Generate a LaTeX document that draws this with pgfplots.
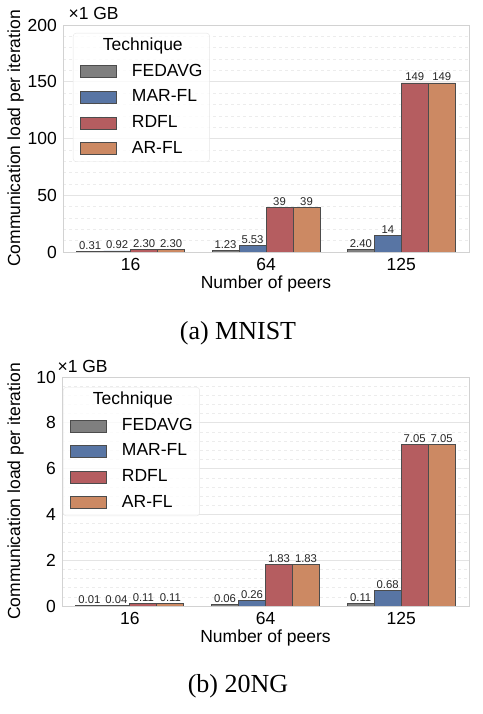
\documentclass[border=0pt]{standalone}
\usepackage{fontspec}
\setmainfont{Liberation Serif}
\newfontfamily\chartfont{Liberation Sans}
\usepackage{pgfplots}
\usepackage{pgfplotstable}
\pgfplotsset{compat=1.18}

\definecolor{cfed}{HTML}{7F7F7F}
\definecolor{cmar}{HTML}{5875A4}
\definecolor{crdfl}{HTML}{B55D60}
\definecolor{carfl}{HTML}{CC8963}
\definecolor{gridc}{HTML}{E4E4E4}

% MNIST, values in GB, with the printed labels
\pgfplotstableread{
x fed fedl mar marl rdfl rdfll arfl arfll
0 0.31 0.31 0.92 0.92 2.30 2.30 2.30 2.30
1 1.23 1.23 5.53 5.53 39.4 39 39.4 39
2 2.40 2.40 14.8 14 149 149 149 149
}\mnist

% 20NG
\pgfplotstableread{
x fed fedl mar marl rdfl rdfll arfl arfll
0 0.01 0.01 0.04 0.04 0.11 0.11 0.11 0.11
1 0.06 0.06 0.26 0.26 1.83 1.83 1.83 1.83
2 0.11 0.11 0.68 0.68 7.05 7.05 7.05 7.05
}\ng

\pgfplotsset{
  patch/.style={legend image code/.code={
      \draw[##1, line width=0.75pt, sharp corners, fill opacity=1, draw opacity=1]
        (0pt,-6pt) rectangle (36pt,6pt);}},
  chart/.style={
    scale only axis,
    anchor=south west,
    ybar=0pt, bar width=27pt,
    xmin=-0.5, xmax=2.5,
    xtick={0,1,2}, xticklabels={16,64,125},
    ymin=0,
    major tick length=0pt, minor tick length=0pt,
    ymajorgrids, yminorgrids, minor y tick num=4,
    major grid style={gridc, line width=0.8pt},
    minor grid style={gridc!70, line width=0.5pt, dashed},
    axis line style={draw=gray!35, line width=0.8pt},
    font=\chartfont\fontsize{17.5}{20}\selectfont,
    /pgf/number format/assume math mode=true,
    yticklabel style={anchor=east, inner sep=0pt, xshift=-6pt},
    xticklabel style={anchor=base, inner sep=0pt, yshift=-18.5pt},
    xlabel={Number of peers},
    xlabel style={at={(axis description cs:0.5,0)}, anchor=base, yshift=-37pt},
    ylabel={Communication load per iteration},
    point meta=explicit symbolic,
    nodes near coords,
    every node near coord/.append style={font=\chartfont\fontsize{11.3}{12}\selectfont,
      color=black!85, inner sep=1.5pt, anchor=south},
    legend cell align=left,
    legend style={anchor=north west, draw=gray!20, rounded corners=3pt,
      fill=white, fill opacity=0.8, text opacity=1,
      inner xsep=7pt, inner ysep=5pt,
      font=\chartfont\fontsize{17.5}{20}\selectfont,
      row sep=9.4pt,
      /tikz/every odd column/.append style={column sep=15pt},
      nodes={inner sep=0pt, text height=12.5pt, text depth=3.7pt}},
  },
  bfed/.style={fill=cfed, draw=black!70, line width=0.75pt, patch},
  bmar/.style={fill=cmar, draw=black!70, line width=0.75pt, patch},
  brdfl/.style={fill=crdfl, draw=black!70, line width=0.75pt, patch},
  barfl/.style={fill=carfl, draw=black!70, line width=0.75pt, patch},
}

\begin{document}
\begin{tikzpicture}
\useasboundingbox (0,0) rectangle (482pt,714pt);

\begin{axis}[chart,
  at={(63pt,462pt)}, width=406pt, height=227pt,
  ymax=200, ytick={0,50,100,150,200},
  ylabel style={at={(axis description cs:-0.117,0.5)}, anchor=center},
  legend style={at={(axis description cs:0.0246,0.965)}}]
  \addlegendimage{empty legend}
  \addlegendentry{\hspace*{-29pt}Technique}
  \addplot[bfed] table[x=x, y=fed, meta=fedl] {\mnist};
  \addlegendentry{FEDAVG}
  \addplot[bmar] table[x=x, y=mar, meta=marl] {\mnist};
  \addlegendentry{MAR-FL}
  \addplot[brdfl] table[x=x, y=rdfl, meta=rdfll] {\mnist};
  \addlegendentry{RDFL}
  \addplot[barfl] table[x=x, y=arfl, meta=arfll] {\mnist};
  \addlegendentry{AR-FL}
\end{axis}
\node[anchor=west, font=\chartfont\fontsize{17.5}{20}\selectfont] at (65pt,701pt) {×1 GB};
\node[anchor=base, font=\fontsize{26}{30}\selectfont] at (238pt,374pt) {(a) MNIST};

\begin{axis}[chart,
  at={(62pt,108pt)}, width=407pt, height=229pt,
  ymax=10, ytick={0,2,4,6,8,10},
  ylabel style={at={(axis description cs:-0.114,0.5)}, anchor=center},
  legend style={at={(axis description cs:0.0025,0.956)}}]
  \addlegendimage{empty legend}
  \addlegendentry{\hspace*{-29pt}Technique}
  \addplot[bfed] table[x=x, y=fed, meta=fedl] {\ng};
  \addlegendentry{FEDAVG}
  \addplot[bmar] table[x=x, y=mar, meta=marl] {\ng};
  \addlegendentry{MAR-FL}
  \addplot[brdfl] table[x=x, y=rdfl, meta=rdfll] {\ng};
  \addlegendentry{RDFL}
  \addplot[barfl] table[x=x, y=arfl, meta=arfll] {\ng};
  \addlegendentry{AR-FL}
\end{axis}
\node[anchor=west, font=\chartfont\fontsize{17.5}{20}\selectfont] at (54pt,348pt) {×1 GB};
\node[anchor=base, font=\fontsize{26}{30}\selectfont] at (238pt,21pt) {(b) 20NG};
\end{tikzpicture}
\end{document}
